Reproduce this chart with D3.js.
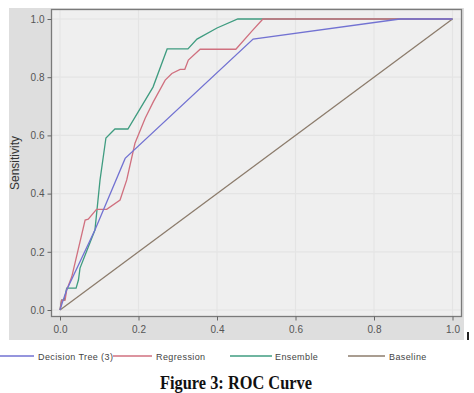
<!DOCTYPE html>
<html>
<head>
<meta charset="utf-8">
<script src="https://cdn.jsdelivr.net/npm/d3@7"></script>
<style>
  body { margin: 0; background: #fff; }
  svg text { font-family: "Liberation Sans", Arial, sans-serif; }
</style>
</head>
<body>
<div id="chart"></div>
<script>
(function(){
// ROC points (1 - specificity, sensitivity)
const dtFpr = [0, 0.008, 0.017, 0.089, 0.166, 0.492, 0.866, 1.0];
const dtTpr = [0, 0.034, 0.069, 0.275, 0.521, 0.931, 1.0, 1.0];

const regFpr = [0, 0.004, 0.013, 0.017, 0.03, 0.034, 0.064, 0.072, 0.093, 0.119, 0.153, 0.17, 0.191, 0.217, 0.238, 0.268, 0.285, 0.306, 0.318, 0.327, 0.357, 0.448, 0.49, 0.517, 1.0];
const regTpr = [0, 0.034, 0.034, 0.069, 0.114, 0.137, 0.309, 0.312, 0.346, 0.346, 0.378, 0.447, 0.573, 0.659, 0.716, 0.790, 0.813, 0.827, 0.827, 0.859, 0.896, 0.896, 0.96, 1.0, 1.0];

const ensFpr = [0, 0.004, 0.011, 0.017, 0.041, 0.047, 0.051, 0.089, 0.102, 0.117, 0.140, 0.173, 0.237, 0.273, 0.326, 0.349, 0.4, 0.453, 1.0];
const ensTpr = [0, 0.034, 0.034, 0.075, 0.075, 0.103, 0.144, 0.275, 0.447, 0.591, 0.622, 0.622, 0.766, 0.897, 0.897, 0.931, 0.969, 1.0, 1.0];

const baseFpr = [0, 1];
const baseTpr = [0, 1];

const seriesNames = ["Decision Tree (3)", "Regression", "Ensemble", "Baseline"];
const seriesColors = ["#7272d2", "#d0707f", "#3f9c80", "#8c7c6c"];
const ticks = [0, 0.2, 0.4, 0.6, 0.8, 1.0];

const width = 474, height = 393;

const svg = d3.select("#chart").append("svg")
  .attr("width", width)
  .attr("height", height);

// outer grey panel and plot frame
svg.append("rect")
  .attr("x", 9).attr("y", 8)
  .attr("width", 455).attr("height", 332)
  .attr("fill", "#dedede");

const frame = { left: 51.5, right: 461.5, top: 9.5, bottom: 316.5 };

svg.append("rect")
  .attr("x", frame.left).attr("y", frame.top)
  .attr("width", frame.right - frame.left)
  .attr("height", frame.bottom - frame.top)
  .attr("fill", "#efefef");

const x = d3.scaleLinear().domain([0, 1]).range([60, 452.5]);
const y = d3.scaleLinear().domain([0, 1]).range([310, 19]);

// grid
svg.append("g").selectAll("line.vg")
  .data(ticks).enter().append("line")
  .attr("x1", d => x(d)).attr("x2", d => x(d))
  .attr("y1", frame.top).attr("y2", frame.bottom)
  .attr("stroke", "#e4e4e4").attr("stroke-width", 1.2);
svg.append("g").selectAll("line.hg")
  .data(ticks).enter().append("line")
  .attr("x1", frame.left).attr("x2", frame.right)
  .attr("y1", d => y(d)).attr("y2", d => y(d))
  .attr("stroke", "#e4e4e4").attr("stroke-width", 1.2);

svg.append("rect")
  .attr("x", frame.left).attr("y", frame.top)
  .attr("width", frame.right - frame.left)
  .attr("height", frame.bottom - frame.top)
  .attr("fill", "none")
  .attr("stroke", "#7a7a7a").attr("stroke-width", 1.3);

// axes
const xAxis = svg.append("g")
  .attr("transform", `translate(0,${frame.bottom})`)
  .call(d3.axisBottom(x).tickValues(ticks).tickFormat(d3.format(".1f")).tickSize(4).tickPadding(5));
const yAxis = svg.append("g")
  .attr("transform", `translate(${frame.left},0)`)
  .call(d3.axisLeft(y).tickValues(ticks).tickFormat(d3.format(".1f")).tickSize(4).tickPadding(3));
[xAxis, yAxis].forEach(a => {
  a.select(".domain").remove();
  a.selectAll(".tick line").attr("stroke", "#666");
  a.selectAll(".tick text").attr("fill", "#555").style("font-size", "10px");
});

svg.append("text")
  .attr("transform", "translate(19,163) rotate(-90)")
  .attr("text-anchor", "middle")
  .attr("fill", "#333")
  .style("font-size", "12px")
  .text("Sensitivity");

// curves
const fprs = [dtFpr, regFpr, ensFpr, baseFpr];
const tprs = [dtTpr, regTpr, ensTpr, baseTpr];
const line = d3.line().x(d => x(d[0])).y(d => y(d[1]));

// draw baseline first, then ensemble, regression, tree
[3, 2, 1, 0].forEach(i => {
  svg.append("path")
    .datum(fprs[i].map((f, j) => [f, tprs[i][j]]))
    .attr("d", line)
    .attr("fill", "none")
    .attr("stroke", seriesColors[i])
    .attr("stroke-width", 1.3);
});

// small dark mark at right of the panel
svg.append("rect")
  .attr("x", 467).attr("y", 332)
  .attr("width", 2).attr("height", 8)
  .attr("fill", "#222");

// legend
const legendX = [[0, 34, 38], [113, 152, 156], [230, 272, 275], [348, 385, 389]];
const legend = svg.append("g");
seriesNames.forEach((name, i) => {
  legend.append("line")
    .attr("x1", legendX[i][0]).attr("x2", legendX[i][1])
    .attr("y1", 356).attr("y2", 356)
    .attr("stroke", seriesColors[i]).attr("stroke-width", 1.3);
  legend.append("text")
    .attr("x", legendX[i][2]).attr("y", 359.5)
    .attr("fill", "#444")
    .style("font-size", "9px")
    .style("letter-spacing", "0.4px")
    .text(name);
});

svg.append("text")
  .attr("x", 236).attr("y", 389)
  .attr("text-anchor", "middle")
  .attr("textLength", 152)
  .attr("lengthAdjust", "spacingAndGlyphs")
  .style("font-family", "'Liberation Serif', 'Times New Roman', serif")
  .style("font-weight", "bold")
  .style("font-size", "19px")
  .attr("fill", "#111")
  .text("Figure 3: ROC Curve");
})();
</script>
</body>
</html>
